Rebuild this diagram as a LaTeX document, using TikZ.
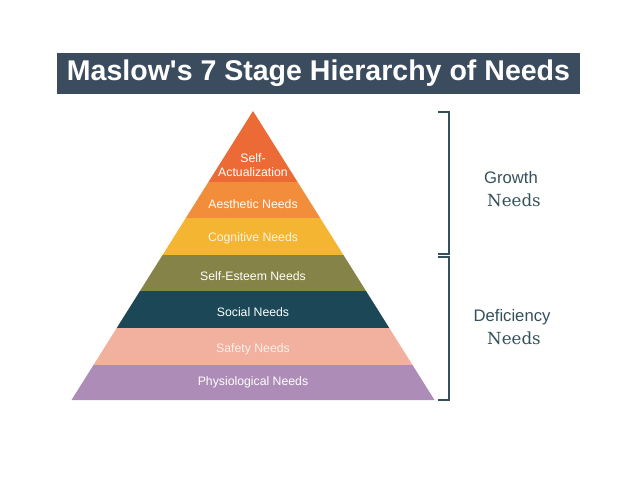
\documentclass[tikz,border=0pt]{standalone}
\usepackage{fontspec}
\setmainfont{Liberation Sans}
\newfontfamily\titlefont{Liberation Sans}[Ligatures=TeXOff]
\newfontfamily\needsfont{DejaVu Serif}
\usepackage{xcolor}
\usetikzlibrary{positioning,calc}

\definecolor{titlebg}{HTML}{3A4C5E}
\definecolor{slate}{HTML}{34505A}
\definecolor{selfact}{HTML}{EC6A35}
\definecolor{aesth}{HTML}{F28D3B}
\definecolor{cogn}{HTML}{F4B632}
\definecolor{esteem}{HTML}{858347}
\definecolor{social}{HTML}{1B4756}
\definecolor{safety}{HTML}{F2B19E}
\definecolor{physio}{HTML}{AD8CB8}

\tikzset{
  layerlabel/.style={font=\fontsize{9.2}{10.5}\selectfont, text=white, align=center},
  sidelabel/.style={text=slate, align=center},
  bracket/.style={draw=slate, line width=1.5pt}
}

\begin{document}
\begin{tikzpicture}[x=0.75pt,y=-0.75pt]
\useasboundingbox (0,0) rectangle (638,478);

% Title
\fill[titlebg] (57,53) rectangle (580,94);
\node[font=\titlefont\fontsize{21.4}{25}\bfseries, text=white] (title) at (318.5,73.5) {Maslow's 7 Stage Hierarchy of Needs};

% Pyramid (apex at 253,111)
\foreach \ya/\yb/\col in {111/182/selfact, 182/218/aesth, 218/255/cogn, 255/291/esteem,
                          291/328/social, 328/365/safety, 365/400/physio}{
  \pgfmathsetmacro{\wa}{(\ya-111)*0.628}
  \pgfmathsetmacro{\wb}{(\yb-111)*0.628}
  \fill[\col] (253-\wa,\ya) -- (253+\wa,\ya) -- (253+\wb,\yb) -- (253-\wb,\yb) -- cycle;
}

% Layer labels
\node[layerlabel] (selfactl) at (253,165) {Self-\\Actualization};
\node[layerlabel] (aesthl) at (253,204) {Aesthetic Needs};
\node[layerlabel, text=white!85!cogn] (cognl) at (253,238) {Cognitive Needs};
\node[layerlabel] (esteeml) at (253,276) {Self-Esteem Needs};
\node[layerlabel] (sociall) at (253,312) {Social Needs};
\node[layerlabel, text=white!80!safety] (safetyl) at (253,349) {Safety Needs};
\node[layerlabel] (physiol) at (253,382) {Physiological Needs};

% Brackets
\draw[bracket] (438,112) -- (449,112) -- (449,254) -- (438,254);
\draw[bracket] (438,257) -- (449,257) -- (449,400) -- (438,400);

% Side labels
\node[sidelabel, font=\fontsize{12.5}{15}\selectfont] (growth) at (511,178) {Growth};
\node[sidelabel, font=\fontsize{12.5}{15}\needsfont] (growthn) at (514,200) {Needs};
\node[sidelabel, font=\fontsize{12.5}{15}\selectfont] (defic) at (512,317) {Deficiency};
\node[sidelabel, font=\fontsize{12.5}{15}\needsfont] (deficn) at (514,338) {Needs};
\end{tikzpicture}
\end{document}
